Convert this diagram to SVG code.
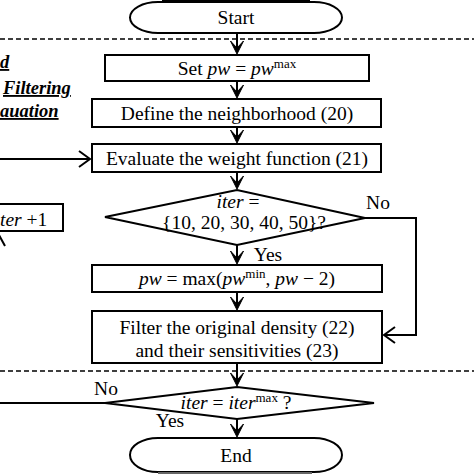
<svg xmlns="http://www.w3.org/2000/svg" xmlns:xlink="http://www.w3.org/1999/xlink" width="474" height="474" viewBox="0 0 474 474">
<defs>
<style>
.shape{fill:#fff;stroke:#000;stroke-width:2}
.line{fill:none;stroke:#000;stroke-width:2}
.dash{fill:none;stroke:#000;stroke-width:1.5;stroke-dasharray:5 3}
.t{font-family:"Liberation Serif","Times New Roman",serif;font-size:19.5px;fill:#000}
.lbl{font-family:"Liberation Serif","Times New Roman",serif;font-size:18.5px;font-weight:bold;font-style:italic;text-decoration:underline;fill:#000}
.i{font-style:italic}
</style>
<path id="arr" d="M-6.5,-13 L0,0 L6.5,-13 L0,-6 Z" fill="#000" stroke="#000" stroke-width="1" stroke-linejoin="miter"/>
</defs>
<rect width="474" height="474" fill="#fff"/>

<!-- dashed separators -->
<line class="dash" x1="0" y1="39" x2="474" y2="39"/>
<line class="dash" x1="0" y1="371" x2="474" y2="371"/>

<g id="connectors">
<line class="line" x1="237" y1="33" x2="237" y2="50"/>
<use xlink:href="#arr" href="#arr" x="237" y="54"/>
<line class="line" x1="237" y1="81" x2="237" y2="94"/>
<use xlink:href="#arr" href="#arr" x="237" y="98"/>
<line class="line" x1="237" y1="127" x2="237" y2="139"/>
<use xlink:href="#arr" href="#arr" x="237" y="143"/>
<line class="line" x1="237" y1="172" x2="237" y2="185"/>
<use xlink:href="#arr" href="#arr" x="237" y="189"/>
<line class="line" x1="237" y1="245" x2="237" y2="260"/>
<use xlink:href="#arr" href="#arr" x="237" y="264"/>
<line class="line" x1="237" y1="292" x2="237" y2="306"/>
<use xlink:href="#arr" href="#arr" x="237" y="310"/>
<line class="line" x1="237" y1="363" x2="237" y2="382"/>
<use xlink:href="#arr" href="#arr" x="237" y="386"/>
<line class="line" x1="237" y1="419" x2="237" y2="433"/>
<use xlink:href="#arr" href="#arr" x="237" y="437"/>
<!-- No loop from diamond 1 -->
<polyline class="line" points="365,218 416,218 416,335 384,335"/>
<polyline class="line" points="395,327 384,335 395,343"/>
<!-- No from diamond 2 to left -->
<line class="line" x1="105" y1="403" x2="0" y2="403"/>
<!-- incoming arrow from left into Evaluate -->
<line class="line" x1="0" y1="159" x2="90" y2="159"/>
<polyline class="line" points="79,151 90,159 79,167"/>
<!-- partial arrowhead under iter+1 box -->
<polyline class="line" points="-6,246 -1,235 5,246"/>
</g>

<g id="start">
<rect class="shape" x="130" y="2" width="212" height="31" rx="28" ry="15.5"/>
<line x1="162" y1="1" x2="310" y2="1" stroke="#000" stroke-width="3"/>
<text class="t" x="236" y="24" text-anchor="middle">Start</text>
</g>

<g id="set-pw">
<rect class="shape" x="105" y="55" width="264" height="26"/>
<text class="t" x="237" y="75" text-anchor="middle">Set <tspan class="i">pw</tspan> = <tspan class="i">pw</tspan><tspan dy="-7" font-size="13">max</tspan></text>
</g>

<g id="define">
<rect class="shape" x="92" y="99" width="289" height="28"/>
<text class="t" x="237" y="120" text-anchor="middle">Define the neighborhood (20)</text>
</g>

<g id="evaluate">
<rect class="shape" x="92" y="144" width="289" height="28"/>
<text class="t" x="237" y="165" text-anchor="middle">Evaluate the weight function (21)</text>
</g>

<g id="decision-iter">
<polygon class="shape" points="105,217 237,190 365,218 237,245"/>
<text class="t" x="238" y="208" text-anchor="middle"><tspan class="i">iter</tspan> =</text>
<text class="t" x="244" y="229" text-anchor="middle">{10, 20, 30, 40, 50}?</text>
<text class="t" x="378" y="209" text-anchor="middle">No</text>
<text class="t" x="268" y="261" text-anchor="middle">Yes</text>
</g>

<g id="update-pw">
<rect class="shape" x="92" y="265" width="290" height="27"/>
<text class="t" x="237" y="285" text-anchor="middle"><tspan class="i">pw</tspan> = max(<tspan class="i">pw</tspan><tspan dy="-7" font-size="13">min</tspan><tspan dy="7">, </tspan><tspan class="i">pw</tspan> − 2)</text>
</g>

<g id="filter">
<rect class="shape" x="92" y="311" width="290" height="52"/>
<text class="t" x="237" y="334" text-anchor="middle">Filter the original density (22)</text>
<text class="t" x="237" y="357" text-anchor="middle">and their sensitivities (23)</text>
</g>

<g id="decision-max">
<polygon class="shape" points="105,403 237,387 374,403 237,419"/>
<text class="t" x="236" y="409" text-anchor="middle"><tspan class="i">iter</tspan> = <tspan class="i">iter</tspan><tspan dy="-7" font-size="13">max</tspan><tspan dy="7"> ?</tspan></text>
<text class="t" x="106" y="395" text-anchor="middle">No</text>
<text class="t" x="170" y="427" text-anchor="middle">Yes</text>
</g>

<g id="end">
<rect class="shape" x="130" y="438" width="212" height="34" rx="28" ry="17"/>
<line x1="158" y1="473" x2="312" y2="473" stroke="#666" stroke-width="2"/>
<text class="t" x="236" y="462" text-anchor="middle">End</text>
</g>

<g id="iter-increment">
<rect class="shape" x="-10" y="204" width="73" height="27"/>
<text class="t" x="0" y="226"><tspan class="i">ter</tspan> +1</text>
</g>

<g id="section-label">
<text class="lbl" x="0" y="68">d</text>
<text class="lbl" x="3" y="94">Filtering</text>
<text class="lbl" x="0" y="117">auation</text>
</g>
</svg>
